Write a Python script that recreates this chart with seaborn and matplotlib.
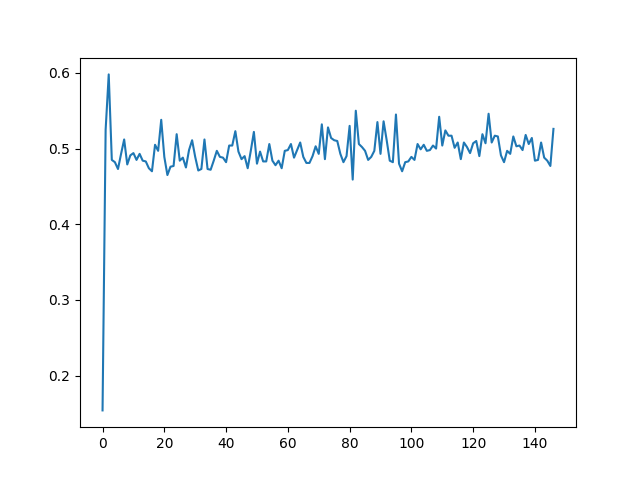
import matplotlib
matplotlib.use("Agg")
import matplotlib.pyplot as plt
import seaborn as sns

# Series values (one value per step, steps 0..146)
values = [
    0.154, 0.525, 0.598, 0.485, 0.482, 0.473, 0.493, 0.512, 0.479, 0.491,
    0.494, 0.485, 0.493, 0.484, 0.483, 0.474, 0.470, 0.505, 0.497, 0.538,
    0.489, 0.465, 0.476, 0.477, 0.519, 0.484, 0.488, 0.475, 0.498, 0.511,
    0.489, 0.471, 0.473, 0.512, 0.473, 0.472, 0.484, 0.497, 0.489, 0.488,
    0.482, 0.504, 0.504, 0.523, 0.496, 0.486, 0.490, 0.474, 0.497, 0.522,
    0.480, 0.496, 0.483, 0.483, 0.506, 0.484, 0.478, 0.484, 0.474, 0.497,
    0.498, 0.506, 0.488, 0.498, 0.508, 0.489, 0.481, 0.481, 0.490, 0.503,
    0.493, 0.532, 0.486, 0.528, 0.514, 0.511, 0.510, 0.493, 0.482, 0.490,
    0.530, 0.459, 0.550, 0.506, 0.502, 0.497, 0.485, 0.489, 0.497, 0.535,
    0.493, 0.536, 0.511, 0.484, 0.482, 0.545, 0.480, 0.470, 0.482, 0.483,
    0.489, 0.485, 0.506, 0.499, 0.505, 0.497, 0.498, 0.504, 0.500, 0.542,
    0.504, 0.524, 0.517, 0.517, 0.501, 0.508, 0.486, 0.508, 0.502, 0.494,
    0.507, 0.510, 0.490, 0.519, 0.507, 0.546, 0.508, 0.517, 0.516, 0.491,
    0.482, 0.497, 0.493, 0.516, 0.503, 0.504, 0.498, 0.518, 0.506, 0.514,
    0.484, 0.485, 0.508, 0.488, 0.484, 0.477, 0.526,
]
steps = list(range(len(values)))

fig, ax = plt.subplots(figsize=(6.4, 4.8), dpi=100)
sns.lineplot(x=steps, y=values, ax=ax, color="#1f77b4", linewidth=1.5)
ax.set_xlabel("")
ax.set_ylabel("")
fig.savefig("out.png", dpi=100)
